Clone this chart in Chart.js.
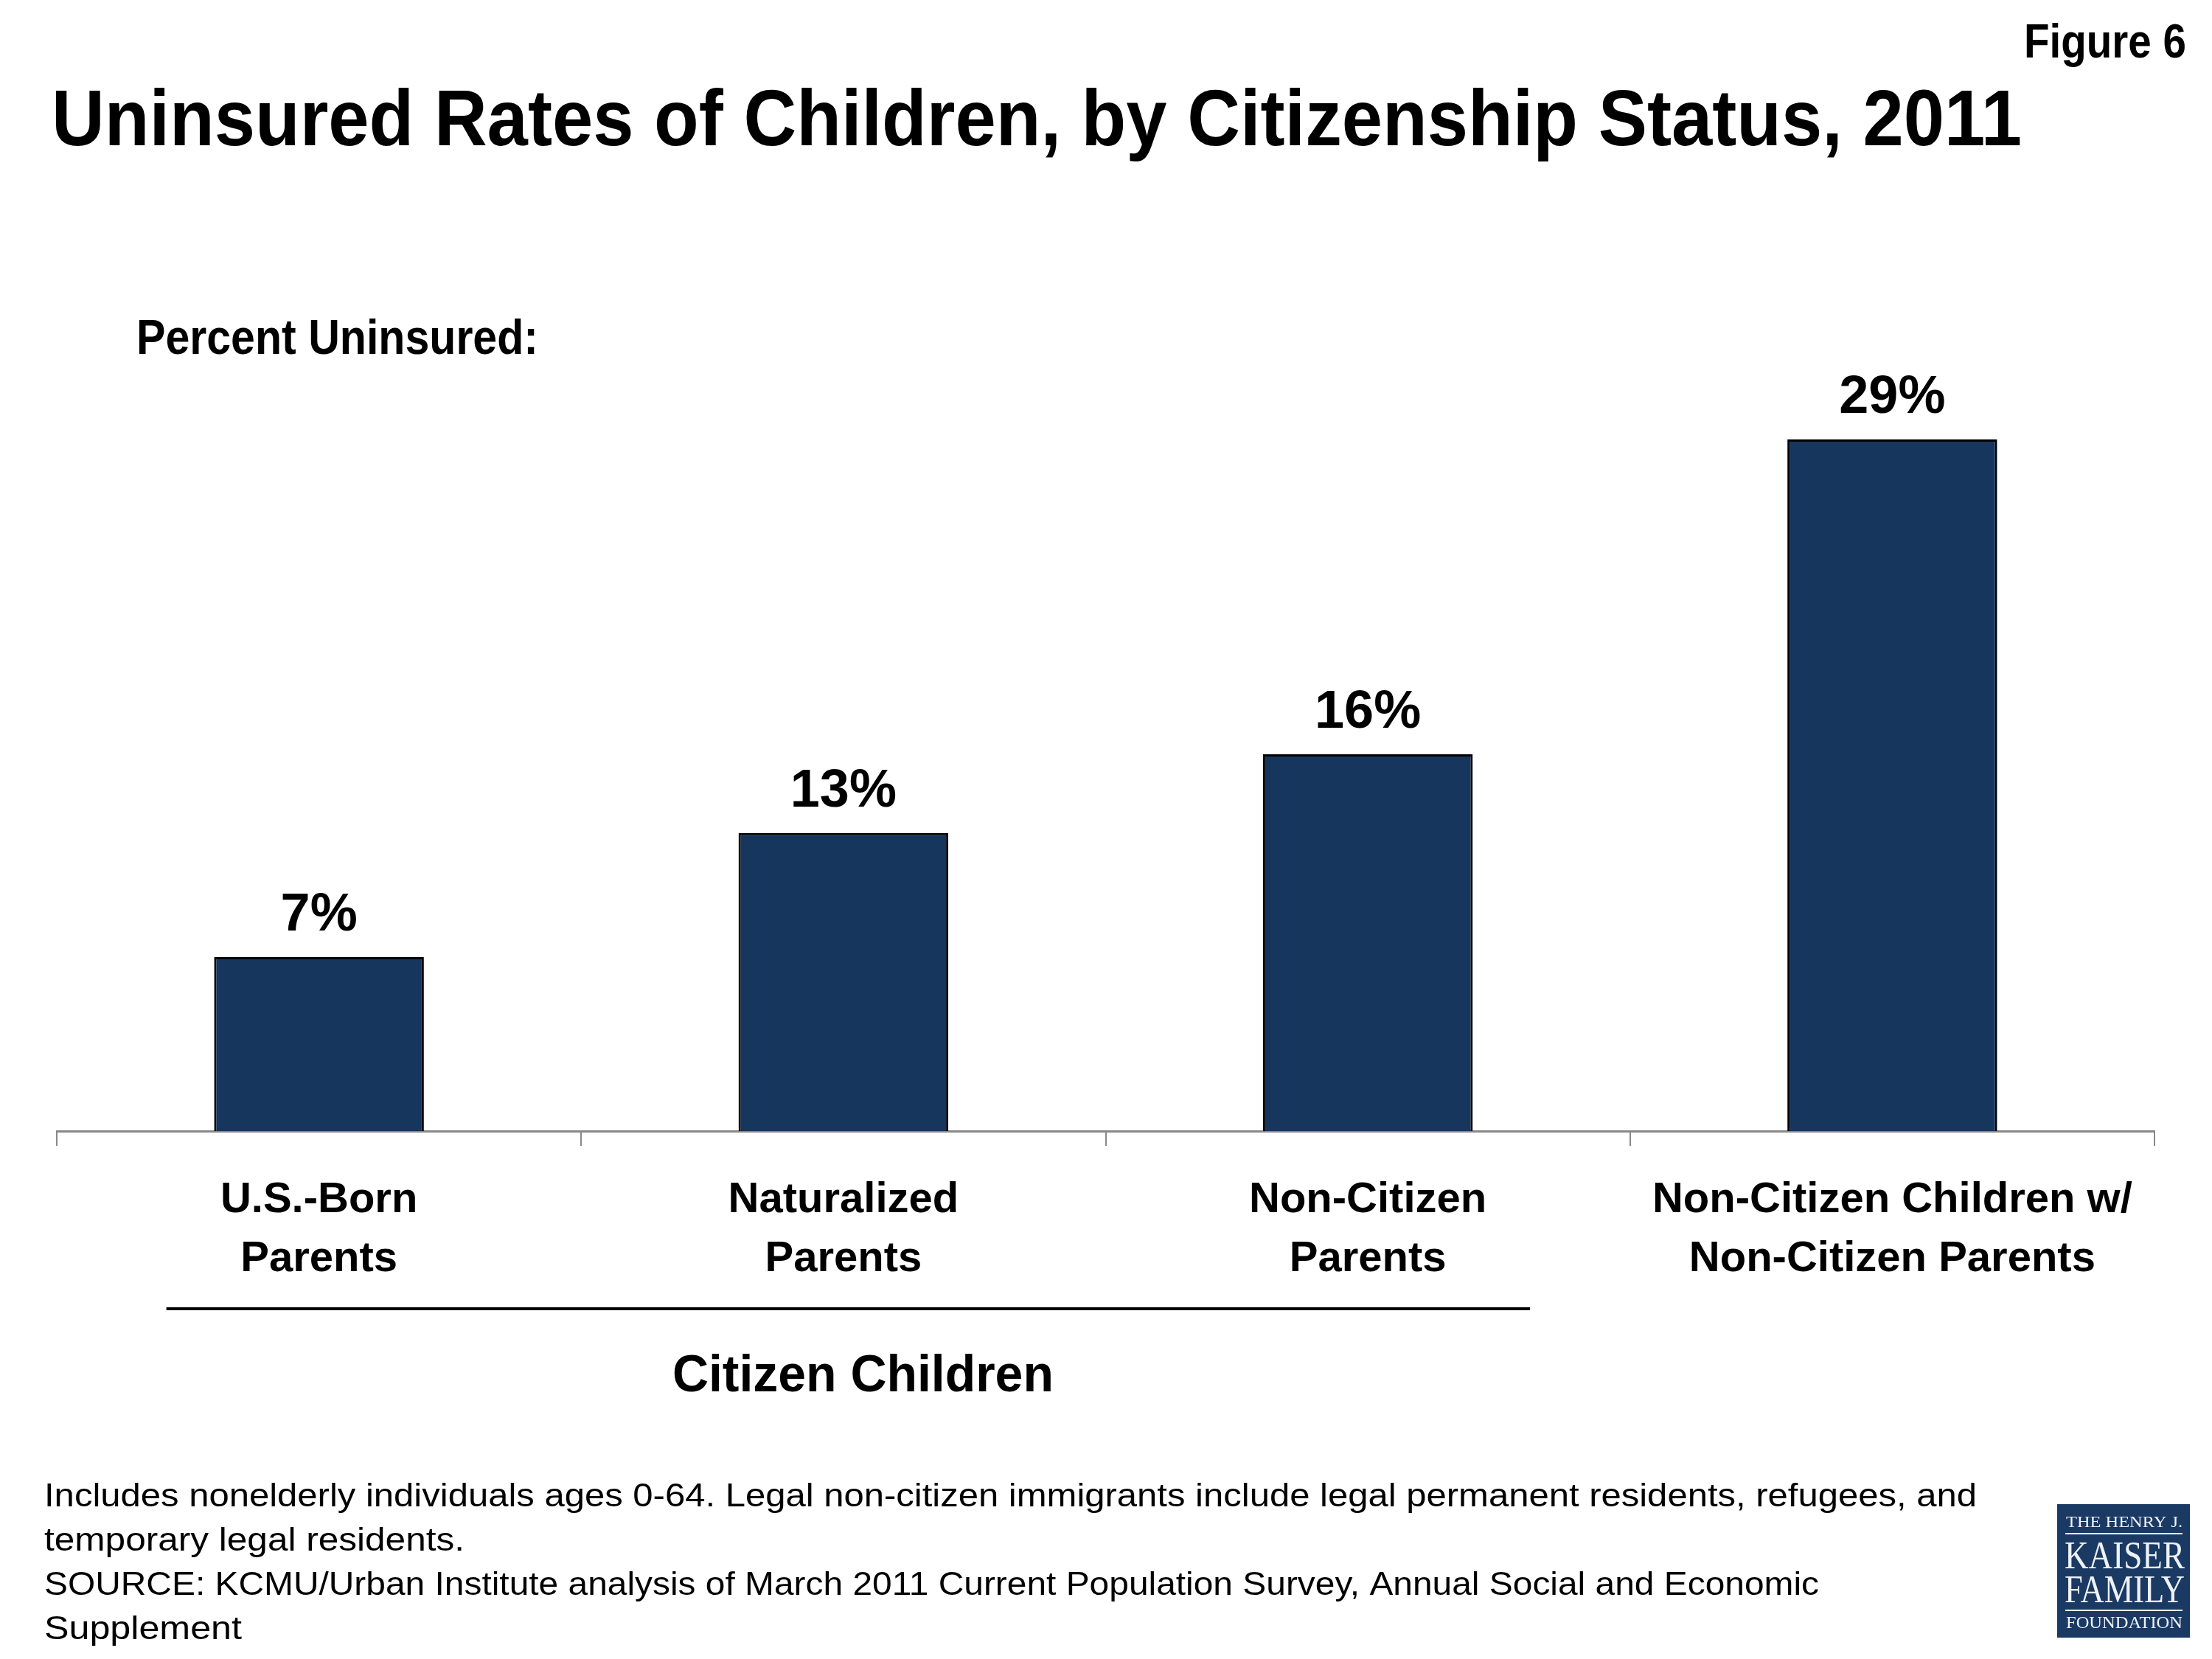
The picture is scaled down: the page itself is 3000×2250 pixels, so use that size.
<!DOCTYPE html>
<html>
<head>
<meta charset="utf-8">
<title>Uninsured Rates of Children, by Citizenship Status, 2011</title>
<script src="https://cdn.jsdelivr.net/npm/chart.js@4.4.1/dist/chart.umd.min.js"></script>
<style>
    html, body { margin:0; padding:0; background:#fff; }
    #chartBox { width:3000px; height:2250px; }
</style>
</head>
<body>
<div id="chartBox"><canvas id="myBarChart" width="3000" height="2250"></canvas></div>
<script>
var categories = [
    ['U.S.-Born', 'Parents'],
    ['Naturalized', 'Parents'],
    ['Non-Citizen', 'Parents'],
    ['Non-Citizen Children w/', 'Non-Citizen Parents']
];
var uninsured = [7.3, 12.5, 15.8, 29];
var groupLabel = 'Citizen Children';
var notes = [
    'Includes nonelderly individuals ages 0-64. Legal non-citizen immigrants include legal permanent residents, refugees, and',
    'temporary legal residents.',
    'SOURCE: KCMU/Urban Institute analysis of March 2011 Current Population Survey, Annual Social and Economic',
    'Supplement'
];

var barColor = '#17365d';
var sans = '"Liberation Sans", Arial, sans-serif';
var serif = '"Liberation Serif", "Times New Roman", serif';

// draws a line of text squeezed to a given width
function fitText(ctx, txt, x, y, font, width, align){
    ctx.save();
    ctx.font = font;
    var w = ctx.measureText(txt).width;
    var s = width ? width / w : 1;
    ctx.translate(x, y);
    ctx.scale(s, 1);
    ctx.textAlign = align || 'left';
    ctx.textBaseline = 'alphabetic';
    ctx.fillText(txt, 0, 0);
    ctx.restore();
}

var valueLabels = {
    id: 'valueLabels',
    afterDatasetsDraw: function(chart){
        var ctx = chart.ctx;
        var meta = chart.getDatasetMeta(0);
        ctx.save();
        ctx.fillStyle = '#000';
        ctx.font = 'bold 72px ' + sans;
        ctx.textAlign = 'center';
        ctx.textBaseline = 'alphabetic';
        meta.data.forEach(function(bar, i){
            ctx.fillText(Math.round(uninsured[i]) + '%', bar.x, bar.y - 36);
        });
        ctx.restore();
    }
};

var pageText = {
    id: 'pageText',
    afterDraw: function(chart){
        var ctx = chart.ctx;
        var x = chart.scales.x;
        ctx.save();
        ctx.fillStyle = '#000';

        fitText(ctx, 'Figure 6', 2965, 78, 'bold 64px ' + sans, 220, 'right');
        fitText(ctx, 'Uninsured Rates of Children, by Citizenship Status, 2011', 70, 197, 'bold 108px ' + sans, 2672);
        fitText(ctx, 'Percent Uninsured:', 185, 480, 'bold 67px ' + sans, 545);

        // bracket under the citizen children groups
        var left = x.getPixelForValue(0) - 207;
        var right = x.getPixelForValue(2) + 220;
        ctx.fillRect(left, 1773, right - left, 4);
        fitText(ctx, groupLabel, (left + right) / 2 + 20, 1887, 'bold 70px ' + sans, 517, 'center');

        var noteW = [2621, 570, 2407, 268];
        notes.forEach(function(line, i){
            fitText(ctx, line, 60, 2043 + i * 60, '44px ' + sans, noteW[i]);
        });

        // logo
        ctx.fillStyle = '#1a3963';
        ctx.fillRect(2790, 2040, 180, 181);
        ctx.fillStyle = '#eef1f6';
        fitText(ctx, 'THE HENRY J.', 2802, 2071, '21px ' + serif, 158);
        ctx.fillRect(2801, 2079, 159, 2);
        fitText(ctx, 'KAISER', 2800, 2127, '52px ' + serif, 163);
        fitText(ctx, 'FAMILY', 2800, 2173, '52px ' + serif, 163);
        ctx.fillRect(2801, 2183, 159, 2);
        fitText(ctx, 'FOUNDATION', 2802, 2208, '24px ' + serif, 158);
        ctx.restore();
    }
};

function drawChartUninsured(){
    var ctx = document.getElementById('myBarChart').getContext('2d');

    var data = {
        labels: categories,
        datasets: [{
            data: uninsured,
            backgroundColor: barColor,
            borderColor: '#000',
            borderWidth: 3,
            borderSkipped: 'start',
            barPercentage: 0.4,
            categoryPercentage: 1
        }]
    };

    var myBarChart = new Chart(ctx, {
        type: 'bar',
        data: data,
        plugins: [valueLabels, pageText],
        options: {
            responsive: false,
            animation: false,
            devicePixelRatio: 1,
            layout: {
                padding: { top: 402, left: 77, right: 78, bottom: 468 }
            },
            plugins: {
                legend: { display: false },
                tooltip: { enabled: false },
                title: { display: false }
            },
            scales: {
                x: {
                    offset: true,
                    grid: {
                        offset: true,
                        drawOnChartArea: false,
                        tickLength: 20,
                        color: '#888',
                        lineWidth: 2
                    },
                    border: { display: true, color: '#888', width: 3 },
                    ticks: {
                        color: '#000',
                        padding: 34,
                        maxRotation: 0,
                        autoSkip: false,
                        font: { family: sans, size: 58, weight: 'bold', lineHeight: 80 / 58 }
                    }
                },
                y: {
                    display: false,
                    min: 0,
                    max: 35
                }
            }
        }
    });
}

drawChartUninsured();
</script>
</body>
</html>
